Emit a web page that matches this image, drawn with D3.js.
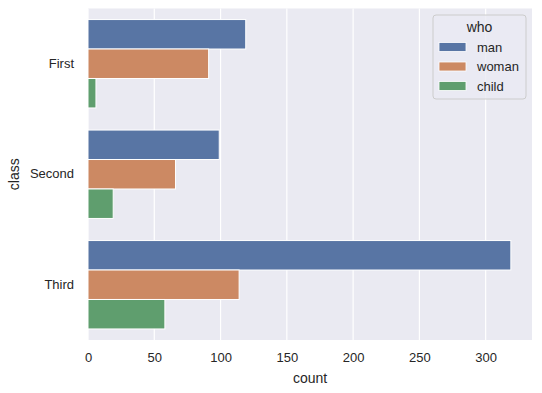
<!DOCTYPE html>
<html>
<head>
<meta charset="utf-8">
<script src="https://cdn.jsdelivr.net/npm/d3@7"></script>
<style>
  body { margin: 0; background: #fff; }
  text { font-family: "Liberation Sans", Arial, sans-serif; fill: #262626; }
</style>
</head>
<body>
<div id="chart"></div>
<script>
var classes = ["First", "Second", "Third"];
var who = ["man", "woman", "child"];
var man = [119, 99, 319];
var woman = [91, 66, 114];
var child = [6, 19, 58];
var colors = ["#5875a4", "#cc8963", "#5f9e6e"];
var xTicks = [0, 50, 100, 150, 200, 250, 300];

var rows = classes.map((c, i) => ({cls: c, man: man[i], woman: woman[i], child: child[i]}));

var width = 542, height = 393;
var margin = {top: 8.5, right: 10, bottom: 53, left: 88};
var chartWidth = width - margin.left - margin.right;
var chartHeight = height - margin.top - margin.bottom;

var svg = d3.select("#chart").append("svg")
  .attr("width", width)
  .attr("height", height);

var g = svg.append("g")
  .attr("transform", `translate(${margin.left},${margin.top})`);

var xScale = d3.scaleLinear()
  .domain([0, d3.max(man) * 1.05])
  .range([0, chartWidth]);

var yScale = d3.scaleBand()
  .domain(classes)
  .range([0, chartHeight])
  .paddingInner(0.2)
  .paddingOuter(0.1);

var hueScale = d3.scaleBand()
  .domain(who)
  .range([0, yScale.bandwidth()]);

var color = d3.scaleOrdinal().domain(who).range(colors);

// background
g.append("rect")
  .attr("width", chartWidth)
  .attr("height", chartHeight)
  .attr("fill", "#eaeaf2");

// grid
g.append("g")
  .selectAll("line")
  .data(xTicks)
  .join("line")
    .attr("x1", d => xScale(d))
    .attr("x2", d => xScale(d))
    .attr("y1", 0)
    .attr("y2", chartHeight)
    .attr("stroke", "#fff")
    .attr("stroke-width", 1.2);

// bars
g.append("g")
  .selectAll("g")
  .data(rows)
  .join("g")
    .attr("transform", d => `translate(0,${yScale(d.cls)})`)
  .selectAll("rect")
  .data(d => who.map(k => ({key: k, value: d[k]})))
  .join("rect")
    .attr("x", xScale(0))
    .attr("y", d => hueScale(d.key))
    .attr("width", d => xScale(d.value) - xScale(0))
    .attr("height", hueScale.bandwidth())
    .attr("fill", d => color(d.key))
    .attr("stroke", "#fff")
    .attr("stroke-width", 1);

// x axis
var xAxis = d3.axisBottom(xScale).tickValues(xTicks).tickSize(0).tickPadding(13);
g.append("g")
  .attr("transform", `translate(0,${chartHeight})`)
  .call(xAxis)
  .call(a => a.select(".domain").remove())
  .selectAll("text")
    .style("font-size", "13px")
    .attr("fill", "#262626");

// y axis
var yAxis = d3.axisLeft(yScale).tickSize(0).tickPadding(14);
g.append("g")
  .call(yAxis)
  .call(a => a.select(".domain").remove())
  .selectAll("text")
    .style("font-size", "13px")
    .attr("fill", "#262626");

// axis labels
svg.append("text")
  .attr("x", margin.left + chartWidth / 2)
  .attr("y", 383)
  .attr("text-anchor", "middle")
  .style("font-size", "14px")
  .text("count");

svg.append("text")
  .attr("transform", `translate(19,${margin.top + chartHeight / 2}) rotate(-90)`)
  .attr("text-anchor", "middle")
  .style("font-size", "14px")
  .text("class");

// legend
var legend = svg.append("g").attr("transform", "translate(433,15)");
legend.append("rect")
  .attr("width", 93)
  .attr("height", 84)
  .attr("rx", 3)
  .attr("fill", "#eaeaf2")
  .attr("fill-opacity", 0.8)
  .attr("stroke", "#cccccc");

legend.append("text")
  .attr("x", 46.5)
  .attr("y", 17)
  .attr("text-anchor", "middle")
  .style("font-size", "14px")
  .text("who");

var items = legend.selectAll("g.item")
  .data(who)
  .join("g")
    .attr("class", "item")
    .attr("transform", (d, i) => `translate(6,${32 + i * 19.5})`);

items.append("rect")
  .attr("width", 27)
  .attr("height", 9)
  .attr("y", -4.5)
  .attr("fill", d => color(d))
  .attr("stroke", "#fff")
  .attr("stroke-width", 0.8);

items.append("text")
  .attr("x", 38)
  .attr("dy", "0.35em")
  .style("font-size", "13px")
  .text(d => d);
</script>
</body>
</html>
